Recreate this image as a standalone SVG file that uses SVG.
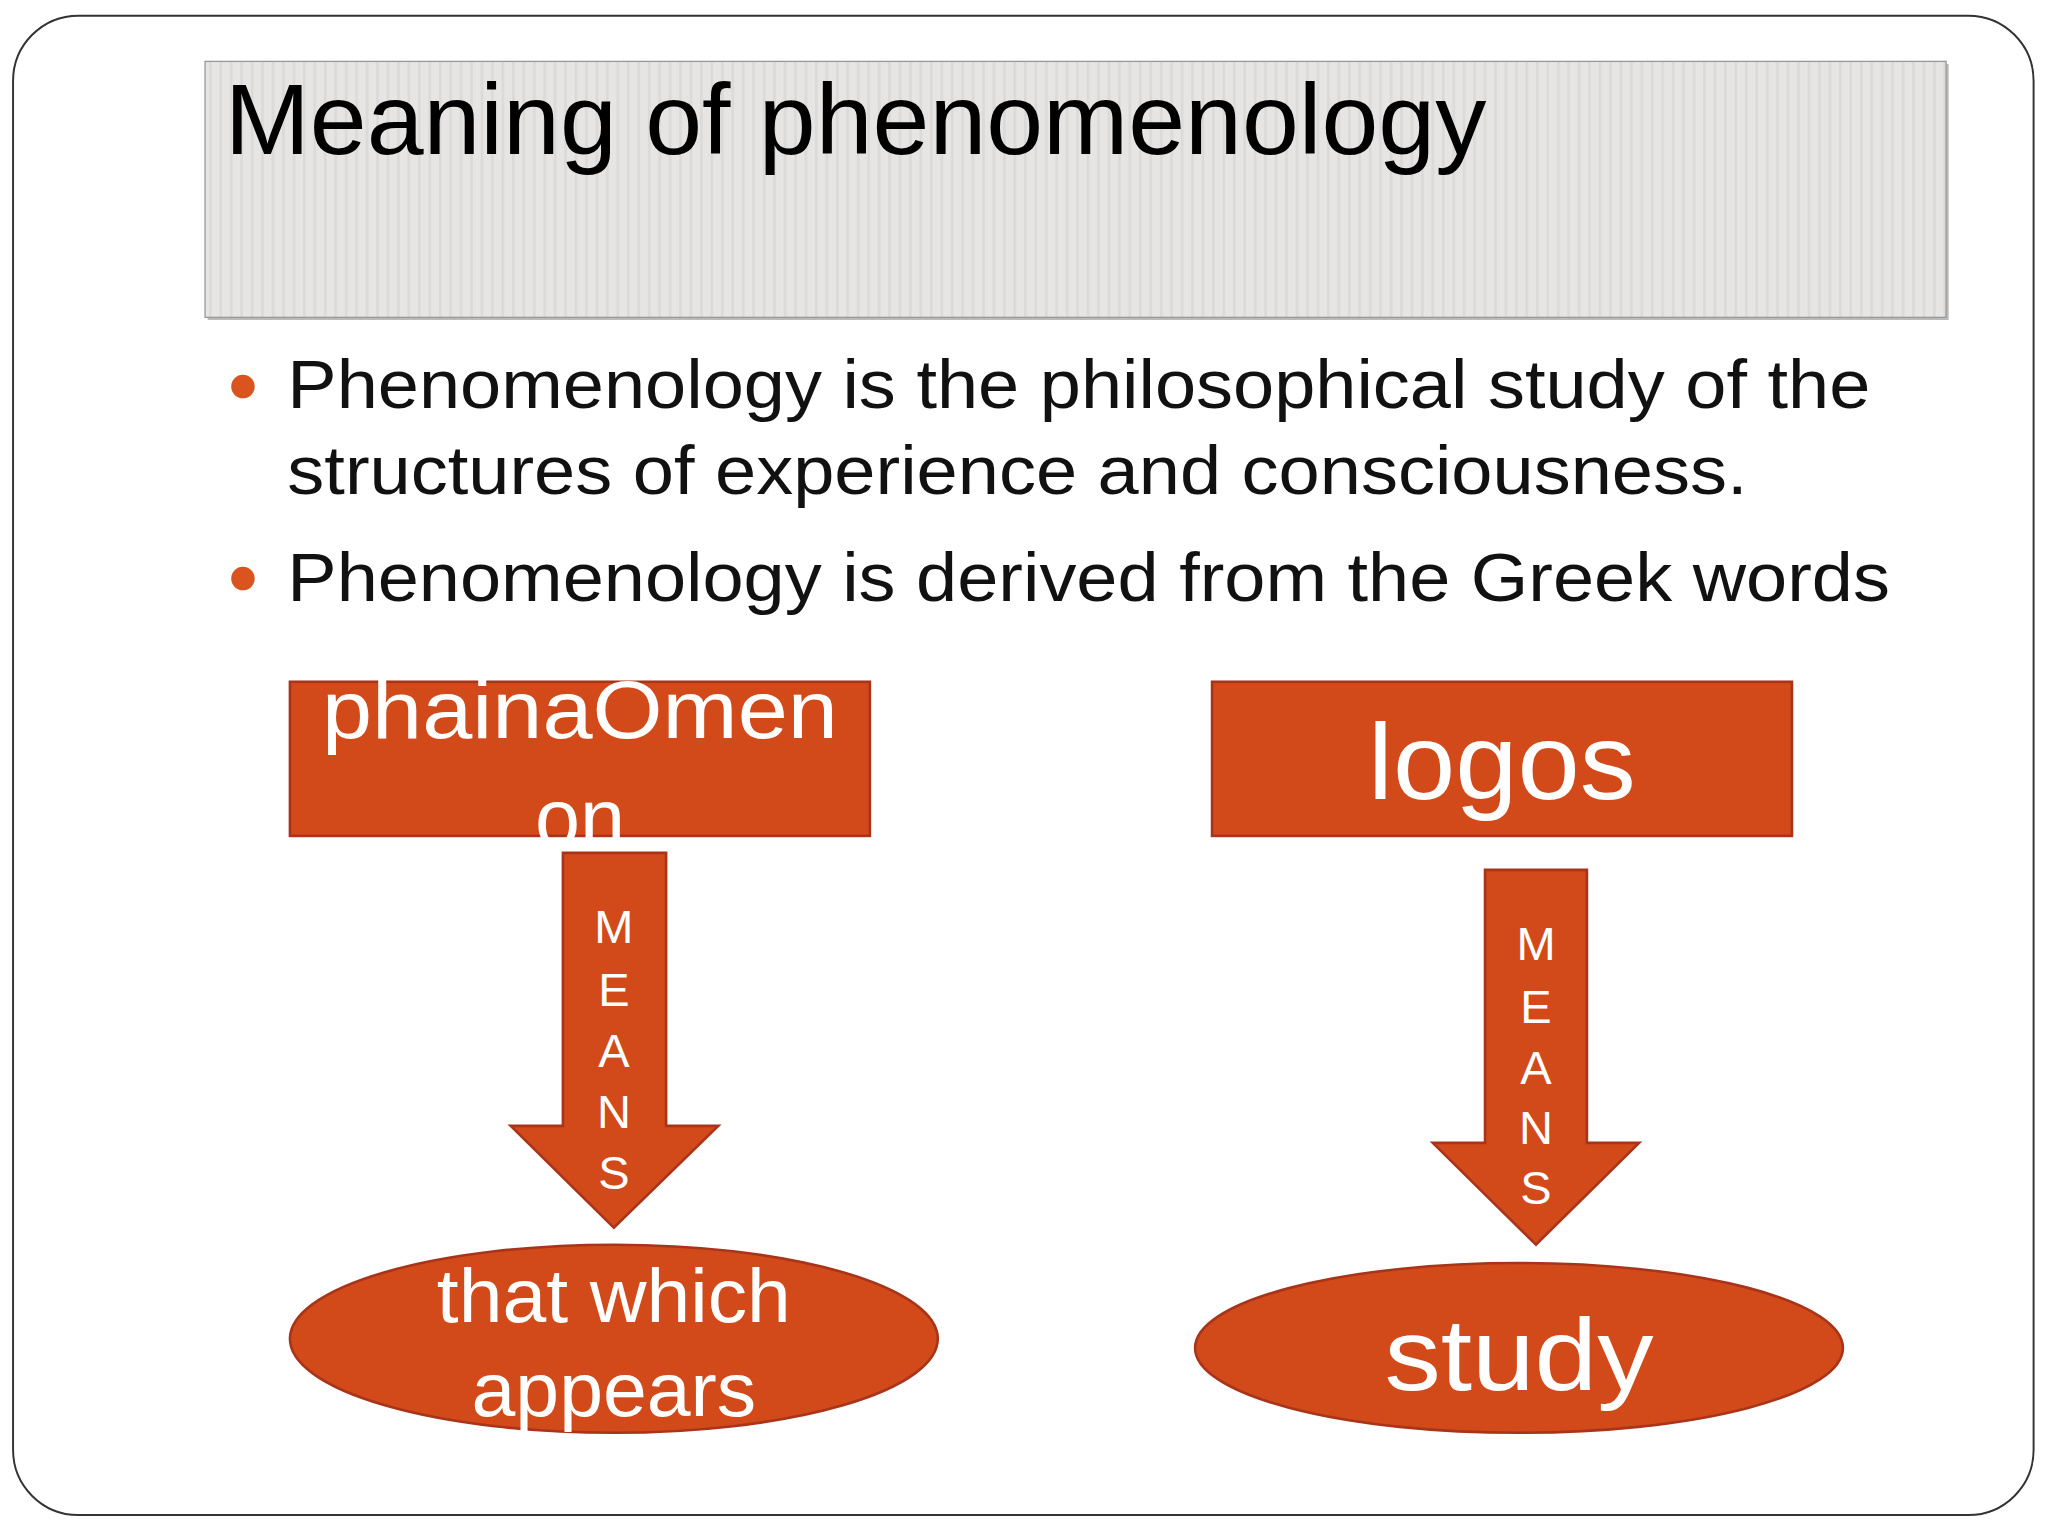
<svg xmlns="http://www.w3.org/2000/svg" width="2048" height="1536" viewBox="0 0 2048 1536">
<defs>
<pattern id="stripe" width="8" height="10" patternUnits="userSpaceOnUse"><rect width="8" height="10" fill="#e7e4e4"/><rect width="2" height="10" fill="#dcd9d9"/></pattern>
</defs>
<style>
.t{font-family:"Liberation Sans",Arial,sans-serif}
.o{fill:#d24a1a;stroke:#a8341a;stroke-width:2}
.w{fill:#fff;text-anchor:middle}
</style>
<rect width="2048" height="1536" fill="#fff"/>
<g transform="scale(1.3061)">
<rect x="10" y="12" width="1547" height="1148" rx="50" fill="#fff" stroke="#333" stroke-width="1.5"/>
<g id="title">
<rect x="159" y="49" width="1333" height="196" fill="#bbb"/>
<rect x="157" y="47" width="1333" height="196" fill="url(#stripe)" stroke="#999"/>
<text class="t" x="172" y="118" font-size="76" fill="#000" textLength="966" lengthAdjust="spacingAndGlyphs">Meaning of phenomenology</text>
</g>
<g id="bullets" class="t" font-size="52" fill="#111">
<circle cx="186" cy="296" r="9" fill="#d9541e"/>
<text x="220" y="312" textLength="1212" lengthAdjust="spacingAndGlyphs">Phenomenology is the philosophical study of the</text>
<text x="220" y="378" textLength="1118" lengthAdjust="spacingAndGlyphs">structures of experience and consciousness.</text>
<circle cx="186" cy="443" r="9" fill="#d9541e"/>
<text x="220" y="460" textLength="1227" lengthAdjust="spacingAndGlyphs">Phenomenology is derived from the Greek words</text>
</g>
<g id="n1"><rect class="o" x="222" y="522" width="444" height="118"/>
<text class="t w" x="444" y="565" font-size="62" textLength="395" lengthAdjust="spacingAndGlyphs">phainaOmen</text><text class="t w" x="444" y="648" font-size="62">on</text></g>
<g id="n2"><rect class="o" x="928" y="522" width="444" height="118"/>
<text class="t w" x="1150" y="612" font-size="82" textLength="205" lengthAdjust="spacingAndGlyphs">logos</text></g>
<g id="connectors">
<g id="a1"><polygon class="o" points="431,653 510,653 510,862 550,862 470,940 391,862 431,862"/>
<g class="t w" font-size="36"><text x="470" y="722">M</text><text x="470" y="770">E</text><text x="470" y="817">A</text><text x="470" y="864">N</text><text x="470" y="910">S</text></g></g>
<g id="a2"><polygon class="o" points="1137,666 1215,666 1215,875 1255,875 1176,953 1097,875 1137,875"/>
<g class="t w" font-size="36"><text x="1176" y="735">M</text><text x="1176" y="783">E</text><text x="1176" y="830">A</text><text x="1176" y="876">N</text><text x="1176" y="922">S</text></g></g>
</g>
<g id="e1"><ellipse class="o" cx="470" cy="1025" rx="248" ry="72"/>
<text class="t w" x="470" y="1012" font-size="58" textLength="271" lengthAdjust="spacingAndGlyphs">that which</text><text class="t w" x="470" y="1084" font-size="58" textLength="218" lengthAdjust="spacingAndGlyphs">appears</text></g>
<g id="e2"><ellipse class="o" cx="1163" cy="1032" rx="248" ry="65"/>
<text class="t w" x="1163" y="1064" font-size="78" textLength="206" lengthAdjust="spacingAndGlyphs">study</text></g>
</g>
</svg>
